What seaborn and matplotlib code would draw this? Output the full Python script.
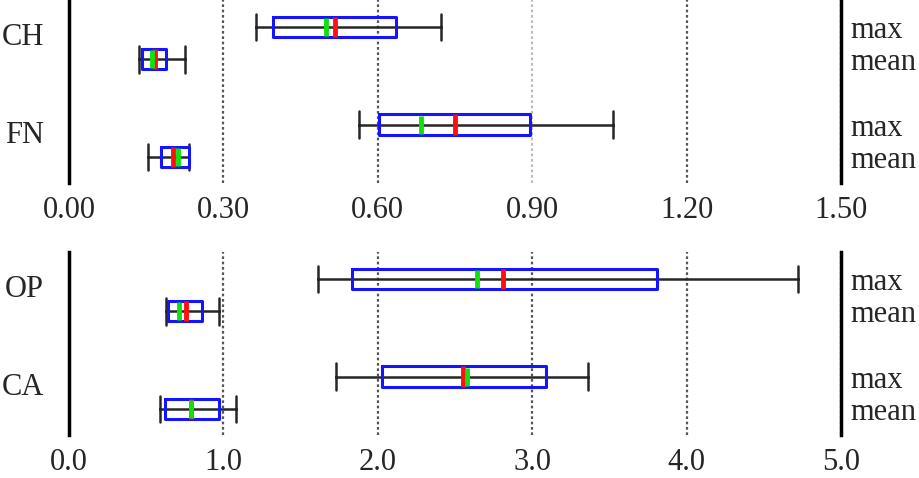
import numpy as np
import pandas as pd
import matplotlib.pyplot as plt
import matplotlib.transforms as mtransforms
import seaborn as sns

# Five-number summaries:
# [whisker low, q1, median, q3, whisker high]
stats = ['max', 'mean']

metrics_top = ['CH', 'FN']
ch_max = [0.363, 0.396, 0.517, 0.635, 0.722]
ch_mean = [0.136, 0.141, 0.167, 0.188, 0.225]
fn_max = [0.563, 0.602, 0.750, 0.896, 1.057]
fn_mean = [0.153, 0.179, 0.202, 0.234, 0.234]

metrics_bottom = ['OP', 'CA']
op_max = [1.61, 1.83, 2.81, 3.81, 4.72]
op_mean = [0.63, 0.64, 0.76, 0.86, 0.97]
ca_max = [1.73, 2.03, 2.55, 3.09, 3.36]
ca_mean = [0.59, 0.62, 0.79, 0.97, 1.08]

# green marks (average), order: max, mean
ch_avg = [0.499, 0.161]
fn_avg = [0.684, 0.211]
op_avg = [2.64, 0.71]
ca_avg = [2.58, 0.79]

top_ticks = [0.0, 0.3, 0.6, 0.9, 1.2, 1.5]
top_tick_labels = ['0.00', '0.30', '0.60', '0.90', '1.20', '1.50']
bottom_ticks = [0, 1, 2, 3, 4, 5]
bottom_tick_labels = ['0.0', '1.0', '2.0', '3.0', '4.0', '5.0']


def long_form(summaries):
    rows = []
    for metric, per_stat in summaries.items():
        for stat, vals in zip(stats, per_stat):
            for v in vals:
                rows.append({'metric': metric, 'stat': stat, 'value': v})
    return pd.DataFrame(rows)


def avg_form(avgs):
    rows = []
    for metric, vals in avgs.items():
        for stat, v in zip(stats, vals):
            rows.append({'metric': metric, 'stat': stat, 'value': v})
    return pd.DataFrame(rows)


top_df = long_form({'CH': [ch_max, ch_mean], 'FN': [fn_max, fn_mean]})
top_avg = avg_form({'CH': ch_avg, 'FN': fn_avg})
bottom_df = long_form({'OP': [op_max, op_mean], 'CA': [ca_max, ca_mean]})
bottom_avg = avg_form({'OP': op_avg, 'CA': ca_avg})

sns.set_style('white')
plt.rcParams['font.family'] = ['Liberation Serif', 'DejaVu Serif']

DODGE = 1 / 3
FS = 22

fig = plt.figure(figsize=(9.2, 4.78), dpi=100)
ax_top = fig.add_axes([69 / 920, 1 - 183 / 478, 772 / 920, 183 / 478])
ax_bottom = fig.add_axes([69 / 920, 1 - 435 / 478, 772 / 920, 183 / 478])


def draw_panel(ax, box_df, avg_df, order, ticks, tick_labels):
    common = dict(x='value', y='metric', hue='stat', order=order,
                  hue_order=stats, ax=ax, legend=False)

    # whisker line running through the box, with caps
    sns.pointplot(data=box_df, estimator='median', errorbar=('pi', 100),
                  dodge=DODGE, markers='none', linestyles='none',
                  palette=['#222222'] * 2, capsize=0.27,
                  err_kws={'linestyle': '-', 'linewidth': 1.8, 'color': '#262626'},
                  **common)

    # boxes with red median
    sns.boxplot(data=box_df, whis=(0, 100), width=2 * DODGE, gap=0.38,
                fill=False, palette=['#1414ff'] * 2, linewidth=2.2,
                medianprops={'color': '#ff1010', 'linewidth': 3.5},
                whiskerprops={'linewidth': 0}, capprops={'linewidth': 0},
                showfliers=False, **common)

    # green average marks, drawn on top
    sns.pointplot(data=avg_df, errorbar=None, dodge=DODGE, markers='|',
                  linestyles='none', palette=['#10e010'] * 2,
                  markersize=13.5, markeredgewidth=3.5, zorder=6, **common)

    ax.set_xlim(ticks[0], ticks[-1])
    ax.set_ylim(1.43, -0.44)
    ax.set_xticks(ticks)
    ax.set_xticklabels(tick_labels)
    ax.set_xlabel('')
    ax.set_ylabel('')

    ax.set_axisbelow(True)
    ax.grid(axis='x', linestyle=(0, (1.2, 1.2)), color='#555555', linewidth=1.6)
    ax.grid(axis='y', visible=False)

    for side in ['top', 'bottom']:
        ax.spines[side].set_visible(False)
    for side in ['left', 'right']:
        ax.spines[side].set_visible(True)
        ax.spines[side].set_color('black')
        ax.spines[side].set_linewidth(2.5)

    ax.tick_params(axis='x', length=0, pad=9, labelsize=FS)
    ax.tick_params(axis='y', length=0, pad=18, labelsize=FS)
    shift = mtransforms.ScaledTranslation(0, 0.09, fig.dpi_scale_trans)
    for lbl in ax.get_yticklabels():
        lbl.set_transform(lbl.get_transform() + shift)

    # right-hand max / mean labels
    twin = ax.twinx()
    twin.set_ylim(ax.get_ylim())
    positions = [i + off for i in range(len(order))
                 for off in (-DODGE / 2, DODGE / 2)]
    twin.set_yticks(positions)
    twin.set_yticklabels(stats * len(order))
    twin.tick_params(axis='y', length=0, pad=7, labelsize=FS)
    for s in twin.spines.values():
        s.set_visible(False)
    twin.grid(False)


draw_panel(ax_top, top_df, top_avg, metrics_top, top_ticks, top_tick_labels)
draw_panel(ax_bottom, bottom_df, bottom_avg, metrics_bottom, bottom_ticks,
           bottom_tick_labels)

# the 0.90 gridline is drawn lighter in the original
ax_top.get_xgridlines()[3].set_color('#bbbbbb')

fig.savefig('out.png', dpi=100)
